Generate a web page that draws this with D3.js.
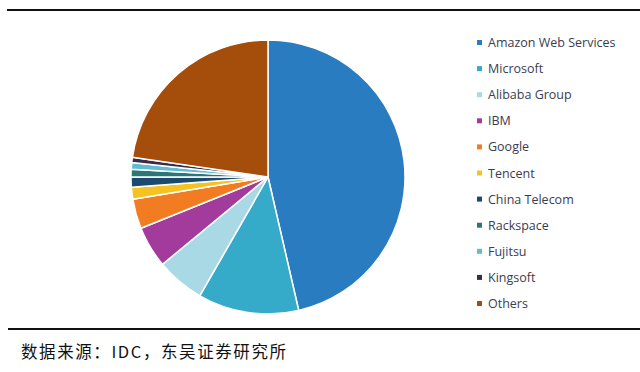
<!DOCTYPE html>
<html>
<head>
<meta charset="utf-8">
<script src="https://cdn.jsdelivr.net/npm/d3@7"></script>
<style>
  body { margin: 0; background: #fff; }
  svg { display: block; }
</style>
</head>
<body>
<div id="chart"></div>
<script>
// vendor shares (%), clockwise from 12 o'clock
const vendors = ['Amazon Web Services', 'Microsoft', 'Alibaba Group', 'IBM', 'Google', 'Tencent',
                 'China Telecom', 'Rackspace', 'Fujitsu', 'Kingsoft', 'Others'];
const shares = [46.4, 11.9, 5.7, 4.9, 3.5, 1.4, 1.2, 0.9, 0.8, 0.6, 22.7];
const colors = ['#2a7cc1', '#36abc9', '#a9d9e5', '#a33b9d', '#f27c22', '#f4c321',
                '#1c4a6c', '#2b7677', '#62bccf', '#3b2b4b', '#a54d0b'];
const sourceText = '数据来源：IDC，东吴证券研究所';

const width = 640, height = 372;
const svg = d3.select('#chart').append('svg')
    .attr('width', width)
    .attr('height', height);

// rules above and below the figure
svg.append('line').attr('x1', 7).attr('x2', 640).attr('y1', 10).attr('y2', 10)
    .attr('stroke', '#111').attr('stroke-width', 2);
svg.append('line').attr('x1', 8).attr('x2', 640).attr('y1', 329).attr('y2', 329)
    .attr('stroke', '#111').attr('stroke-width', 2);

// pie
const data = vendors.map((v, i) => ({ name: v, value: shares[i], color: colors[i] }));
const pie = d3.pie().value(d => d.value).sort(null);
const arc = d3.arc().innerRadius(0).outerRadius(137);

const g = svg.append('g').attr('transform', 'translate(268,177)');
g.selectAll('path')
    .data(pie(data))
    .enter().append('path')
    .attr('d', arc)
    .attr('fill', d => d.data.color)
    .attr('stroke', '#fff')
    .attr('stroke-width', 1.5)
    .attr('stroke-linejoin', 'round');

// legend
const y = d3.scalePoint().domain(vendors).range([42.5, 303.5]);
const legend = svg.append('g');
const item = legend.selectAll('g')
    .data(data)
    .enter().append('g')
    .attr('transform', d => `translate(477,${y(d.name)})`);
item.append('rect')
    .attr('x', 0).attr('y', -2.5)
    .attr('width', 5).attr('height', 5)
    .attr('fill', d => d.color);
item.append('text')
    .attr('x', 11)
    .attr('dy', '0.36em')
    .attr('font-family', '"Open Sans", sans-serif')
    .attr('font-size', 12.5)
    .attr('fill', '#3c3c50')
    .text(d => d.name);

// source note
svg.append('text')
    .attr('x', 21)
    .attr('y', 358)
    .attr('font-family', '"Noto Sans CJK SC", sans-serif')
    .attr('font-size', 16.5)
    .attr('fill', '#111')
    .attr('textLength', 265)
    .attr('lengthAdjust', 'spacing')
    .text(sourceText);
</script>
</body>
</html>
